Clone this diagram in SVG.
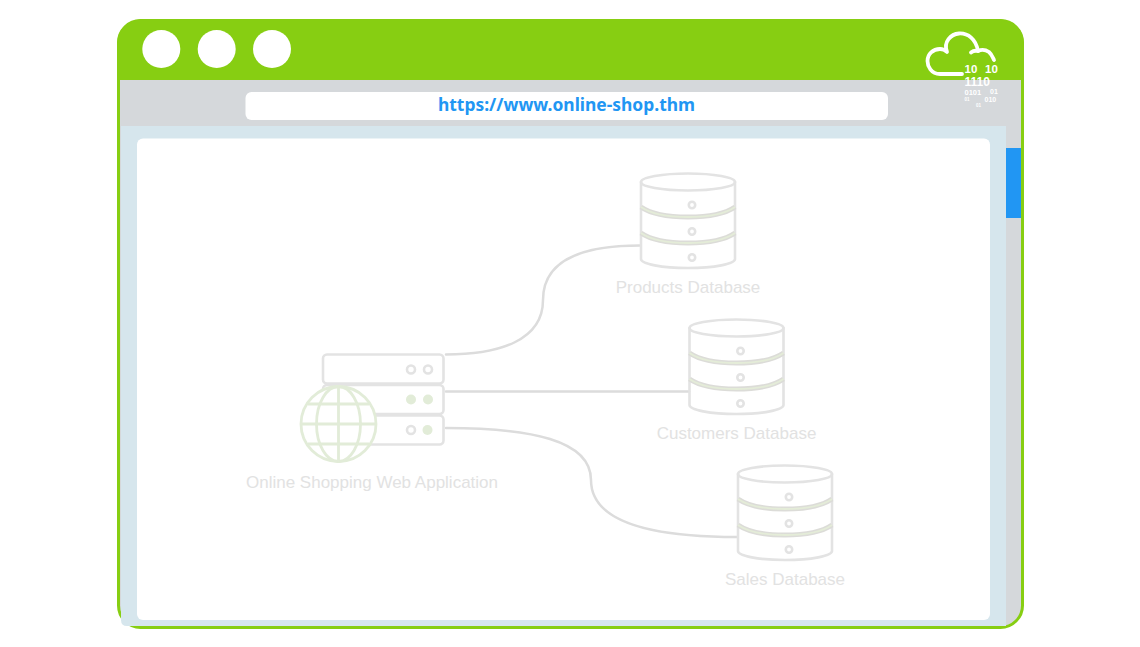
<svg xmlns="http://www.w3.org/2000/svg" xmlns:xlink="http://www.w3.org/1999/xlink" width="1140" height="647" viewBox="0 0 1140 647">
<style>
.ln{fill:none;stroke:#e3e3e3;stroke-width:2.6;stroke-linecap:round;stroke-linejoin:round}
.cn{fill:none;stroke:#dcdcdc;stroke-width:2.5;stroke-linecap:round}
.gr{fill:none;stroke:#e2ecd8;stroke-width:2.8}
.lbl{font-family:"Liberation Sans",Arial,sans-serif;font-size:17px;fill:#e2e2e2;text-anchor:middle}
.bin{font-family:"Liberation Sans",Arial,sans-serif;fill:#fff}
.wdot{fill:#fff}
</style>
<defs>
<g id="db">
<path class="ln" d="M0 9V86C0 91 21 95 47 95S94 91 94 86V9"/>
<ellipse class="ln" cx="47" cy="9" rx="47" ry="8.5" fill="#fff"/>
<path d="M0 34C10 41 28 44 47 44S84 41 94 34" fill="none" stroke="#dcdcd8" stroke-width="5"/>
<path d="M0 60C10 67 28 70 47 70S84 67 94 60" fill="none" stroke="#dcdcd8" stroke-width="5"/>
<path d="M0 34C10 41 28 44 47 44S84 41 94 34" fill="none" stroke="#e4ecd8" stroke-width="1.800"/>
<path d="M0 60C10 67 28 70 47 70S84 67 94 60" fill="none" stroke="#e4ecd8" stroke-width="1.800"/>
<circle class="ln" cx="51" cy="32" r="3.200"/>
<circle class="ln" cx="51" cy="58.500" r="3.200"/>
<circle class="ln" cx="51" cy="84.500" r="3.200"/>
</g>
</defs>
<g id="browser">
<rect x="118.500" y="20.500" width="904" height="607" rx="22" fill="#d5d8db" stroke="#87ce12" stroke-width="3"/>
<path d="M117 80V46C117 28 128 19 146 19H995C1013 19 1024 28 1024 46V80Z" fill="#87ce12"/>
<path d="M121 126H1006V626H127Q121 626 121 620Z" fill="#d6e6ed"/>
<rect x="137" y="138.500" width="853" height="481.500" rx="6" fill="#fff"/>
<rect x="1006" y="148" width="15" height="70" fill="#2196f3"/>
<circle class="wdot" cx="161.300" cy="49" r="19"/>
<circle class="wdot" cx="216.700" cy="49" r="19"/>
<circle class="wdot" cx="272" cy="49" r="19"/>
<rect x="245.500" y="92" width="642.500" height="28" rx="6" fill="#fff"/>
<text x="566.500" y="111" font-family="'Noto Sans','Open Sans',sans-serif" font-weight="700" font-size="18" fill="#2196f3" text-anchor="middle" textLength="257" lengthAdjust="spacingAndGlyphs">https://www.online-shop.thm</text>
</g>
<g id="cloud-logo">
<path d="M962 74H940C931 74 927.500 66 927.500 61C927.500 54 933 49 940 49C942 49 945 50 947 52C943 42 951 34 959 33.500C968 33 976 39 978 51C982 49 986 50 989 52C992 54.500 993 58 994 60" fill="none" stroke="#fff" stroke-width="3.800" stroke-linecap="round" stroke-linejoin="round"/>
<path d="M971 52.500C973.500 50.500 976 50.500 978 51" fill="none" stroke="#fff" stroke-width="3.800" stroke-linecap="round"/>
<text class="bin" x="964.500" y="72.500" font-size="11.500" font-weight="700">10</text>
<text class="bin" x="985" y="72.500" font-size="11.500" font-weight="700">10</text>
<text class="bin" x="964.500" y="85.500" font-size="12" font-weight="700">1110</text>
<text class="bin" x="964.500" y="94.500" font-size="7.500" font-weight="700">0101</text>
<text class="bin" x="990" y="94" font-size="7" font-weight="700">01</text>
<text class="bin" x="964.500" y="100.500" font-size="4.500" font-weight="700">01</text>
<text class="bin" x="984.500" y="102" font-size="7" font-weight="700">010</text>
<text class="bin" x="976" y="106.500" font-size="4.500" font-weight="700">01</text>
</g>
<g id="connectors">
<path class="cn" d="M446 354.500C500 354.500 543 340 543 300C543 262 578 245.500 640 245.500"/>
<path class="cn" d="M446 391.500H689"/>
<path class="cn" d="M446 428C530 428 591 440 591 480C591 522 650 537 737 537"/>
</g>
<g id="web-app">
<rect class="ln" x="323" y="354.500" width="120.500" height="29" rx="4" fill="#fff"/>
<rect class="ln" x="323" y="385" width="120.500" height="29" rx="4"/>
<rect class="ln" x="323" y="415.500" width="120.500" height="29" rx="4"/>
<circle class="ln" cx="411" cy="369.500" r="4"/>
<circle class="ln" cx="428" cy="369.500" r="4"/>
<circle cx="411" cy="399.500" r="5" fill="#e2ecd8"/>
<circle cx="428" cy="399.500" r="5" fill="#e2ecd8"/>
<circle class="ln" cx="411" cy="430" r="4"/>
<circle cx="427.500" cy="430" r="5" fill="#e2ecd8"/>
<circle cx="338.500" cy="424" r="37.500" fill="#fff"/>
<circle class="gr" cx="338.500" cy="424" r="37.500"/>
<ellipse class="gr" cx="338.500" cy="424" rx="22" ry="37.500"/>
<path class="gr" d="M338.500 386.500V461.500M301 424H376M308 404H369M308 444H369"/>
<text class="lbl" x="372" y="488">Online Shopping Web Application</text>
</g>
<g id="products-db">
<use xlink:href="#db" href="#db" x="641" y="173"/>
<text class="lbl" x="688" y="293">Products Database</text>
</g>
<g id="customers-db">
<use xlink:href="#db" href="#db" x="689.500" y="319"/>
<text class="lbl" x="736.500" y="439">Customers Database</text>
</g>
<g id="sales-db">
<use xlink:href="#db" href="#db" x="738" y="465"/>
<text class="lbl" x="785" y="585">Sales Database</text>
</g>
</svg>
